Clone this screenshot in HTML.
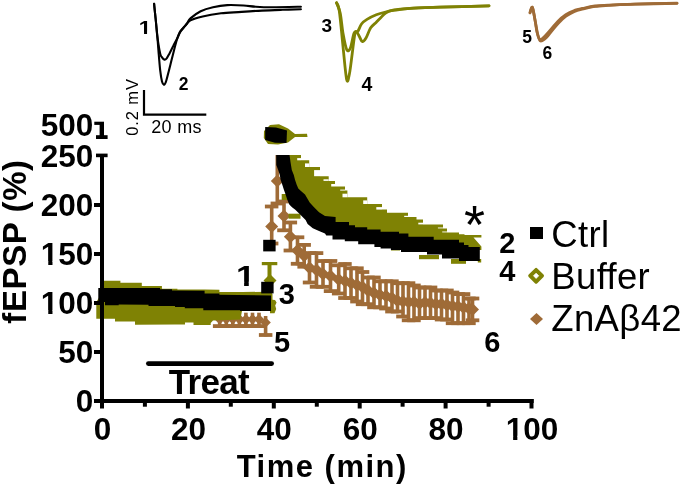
<!DOCTYPE html><html><head><meta charset="utf-8"><title>fEPSP</title><style>html,body{margin:0;padding:0;background:#fff;width:685px;height:486px;overflow:hidden}</style></head><body><svg width="685" height="486" viewBox="0 0 685 486" style="display:block"><defs><clipPath id="cm"><rect x="96" y="155" width="440" height="250"/></clipPath></defs><g fill="#9f6b37" clip-path="url(#cm)"><rect x="217.9" y="312.7" width="3.6" height="14.9"/><rect x="212.9" y="324.2" width="13.5" height="3.8"/><rect x="224.5" y="312.7" width="3.6" height="14.9"/><rect x="219.5" y="324.2" width="13.5" height="3.8"/><rect x="231.0" y="312.7" width="3.6" height="14.9"/><rect x="226.1" y="324.2" width="13.5" height="3.8"/><rect x="237.6" y="312.7" width="3.6" height="14.9"/><rect x="232.6" y="324.2" width="13.5" height="3.8"/><rect x="244.1" y="312.7" width="3.6" height="14.9"/><rect x="239.2" y="324.2" width="13.5" height="3.8"/><rect x="250.7" y="312.7" width="3.6" height="14.9"/><rect x="245.7" y="324.2" width="13.5" height="3.8"/><rect x="257.2" y="312.7" width="3.6" height="14.9"/><rect x="252.3" y="324.2" width="13.5" height="3.8"/><rect x="263.8" y="316.0" width="3.6" height="20.5"/><rect x="258.9" y="333.1" width="13.5" height="3.8"/><rect x="269.9" y="205.0" width="3.6" height="40.0"/><rect x="264.9" y="204.6" width="13.5" height="3.8"/><rect x="264.9" y="241.6" width="13.5" height="3.8"/><rect x="275.5" y="150.0" width="3.6" height="55.0"/><rect x="270.6" y="149.6" width="13.5" height="3.8"/><rect x="270.6" y="201.6" width="13.5" height="3.8"/><rect x="282.2" y="200.0" width="3.6" height="31.8"/><rect x="277.2" y="199.6" width="13.5" height="3.8"/><rect x="277.2" y="228.4" width="13.5" height="3.8"/><rect x="288.6" y="221.0" width="3.6" height="31.0"/><rect x="283.6" y="220.6" width="13.5" height="3.8"/><rect x="283.6" y="248.6" width="13.5" height="3.8"/><rect x="295.7" y="235.8" width="3.6" height="29.5"/><rect x="290.8" y="235.4" width="13.5" height="3.8"/><rect x="290.8" y="261.9" width="13.5" height="3.8"/><rect x="302.4" y="243.4" width="3.6" height="24.8"/><rect x="297.4" y="243.0" width="13.5" height="3.8"/><rect x="297.4" y="264.8" width="13.5" height="3.8"/><rect x="307.7" y="251.6" width="3.6" height="32.4"/><rect x="302.8" y="251.2" width="13.5" height="3.8"/><rect x="302.8" y="280.6" width="13.5" height="3.8"/><rect x="314.7" y="251.6" width="3.6" height="36.7"/><rect x="309.8" y="251.2" width="13.5" height="3.8"/><rect x="309.8" y="284.9" width="13.5" height="3.8"/><rect x="321.2" y="259.5" width="3.6" height="28.8"/><rect x="316.2" y="259.1" width="13.5" height="3.8"/><rect x="316.2" y="284.9" width="13.5" height="3.8"/><rect x="328.7" y="259.5" width="3.6" height="33.1"/><rect x="323.8" y="259.1" width="13.5" height="3.8"/><rect x="323.8" y="289.2" width="13.5" height="3.8"/><rect x="336.9" y="263.8" width="3.6" height="31.2"/><rect x="331.9" y="263.4" width="13.5" height="3.8"/><rect x="331.9" y="291.6" width="13.5" height="3.8"/><rect x="343.2" y="262.5" width="3.6" height="37.0"/><rect x="338.2" y="262.1" width="13.5" height="3.8"/><rect x="338.2" y="296.1" width="13.5" height="3.8"/><rect x="349.2" y="266.8" width="3.6" height="32.7"/><rect x="344.2" y="266.4" width="13.5" height="3.8"/><rect x="344.2" y="296.1" width="13.5" height="3.8"/><rect x="355.2" y="266.8" width="3.6" height="36.2"/><rect x="350.2" y="266.4" width="13.5" height="3.8"/><rect x="350.2" y="299.6" width="13.5" height="3.8"/><rect x="360.7" y="270.5" width="3.6" height="35.2"/><rect x="355.8" y="270.1" width="13.5" height="3.8"/><rect x="355.8" y="302.3" width="13.5" height="3.8"/><rect x="366.2" y="276.0" width="3.6" height="29.7"/><rect x="361.2" y="275.6" width="13.5" height="3.8"/><rect x="361.2" y="302.3" width="13.5" height="3.8"/><rect x="372.2" y="276.0" width="3.6" height="32.8"/><rect x="367.2" y="275.6" width="13.5" height="3.8"/><rect x="367.2" y="305.4" width="13.5" height="3.8"/><rect x="378.2" y="279.8" width="3.6" height="29.0"/><rect x="373.2" y="279.4" width="13.5" height="3.8"/><rect x="373.2" y="305.4" width="13.5" height="3.8"/><rect x="384.2" y="279.8" width="3.6" height="30.2"/><rect x="379.2" y="279.4" width="13.5" height="3.8"/><rect x="379.2" y="306.6" width="13.5" height="3.8"/><rect x="390.2" y="279.8" width="3.6" height="33.2"/><rect x="385.2" y="279.4" width="13.5" height="3.8"/><rect x="385.2" y="309.6" width="13.5" height="3.8"/><rect x="395.7" y="281.7" width="3.6" height="31.3"/><rect x="390.8" y="281.3" width="13.5" height="3.8"/><rect x="390.8" y="309.6" width="13.5" height="3.8"/><rect x="401.2" y="281.7" width="3.6" height="36.3"/><rect x="396.2" y="281.3" width="13.5" height="3.8"/><rect x="396.2" y="314.6" width="13.5" height="3.8"/><rect x="406.7" y="281.7" width="3.6" height="40.1"/><rect x="401.8" y="281.3" width="13.5" height="3.8"/><rect x="401.8" y="318.4" width="13.5" height="3.8"/><rect x="412.2" y="284.0" width="3.6" height="37.8"/><rect x="407.2" y="283.6" width="13.5" height="3.8"/><rect x="407.2" y="318.4" width="13.5" height="3.8"/><rect x="417.7" y="286.0" width="3.6" height="33.6"/><rect x="412.8" y="285.6" width="13.5" height="3.8"/><rect x="412.8" y="316.2" width="13.5" height="3.8"/><rect x="423.2" y="286.0" width="3.6" height="33.6"/><rect x="418.2" y="285.6" width="13.5" height="3.8"/><rect x="418.2" y="316.2" width="13.5" height="3.8"/><rect x="428.7" y="286.0" width="3.6" height="33.6"/><rect x="423.8" y="285.6" width="13.5" height="3.8"/><rect x="423.8" y="316.2" width="13.5" height="3.8"/><rect x="434.2" y="289.0" width="3.6" height="30.6"/><rect x="429.2" y="288.6" width="13.5" height="3.8"/><rect x="429.2" y="316.2" width="13.5" height="3.8"/><rect x="439.7" y="289.0" width="3.6" height="32.0"/><rect x="434.8" y="288.6" width="13.5" height="3.8"/><rect x="434.8" y="317.6" width="13.5" height="3.8"/><rect x="445.2" y="289.0" width="3.6" height="32.0"/><rect x="440.2" y="288.6" width="13.5" height="3.8"/><rect x="440.2" y="317.6" width="13.5" height="3.8"/><rect x="450.7" y="291.0" width="3.6" height="33.7"/><rect x="445.8" y="290.6" width="13.5" height="3.8"/><rect x="445.8" y="321.3" width="13.5" height="3.8"/><rect x="456.2" y="292.6" width="3.6" height="32.1"/><rect x="451.2" y="292.2" width="13.5" height="3.8"/><rect x="451.2" y="321.3" width="13.5" height="3.8"/><rect x="461.7" y="292.6" width="3.6" height="32.1"/><rect x="456.8" y="292.2" width="13.5" height="3.8"/><rect x="456.8" y="321.3" width="13.5" height="3.8"/><rect x="467.2" y="297.0" width="3.6" height="27.7"/><rect x="462.2" y="296.6" width="13.5" height="3.8"/><rect x="462.2" y="321.3" width="13.5" height="3.8"/><rect x="470.7" y="297.0" width="3.6" height="24.8"/><rect x="465.8" y="296.6" width="13.5" height="3.8"/><rect x="465.8" y="318.4" width="13.5" height="3.8"/><path d="M219.7 314.0L224.9 319.2L219.7 324.4L214.5 319.2Z"/><path d="M226.3 314.0L231.5 319.2L226.3 324.4L221.1 319.2Z"/><path d="M232.8 314.0L238.0 319.2L232.8 324.4L227.6 319.2Z"/><path d="M239.4 314.0L244.6 319.2L239.4 324.4L234.2 319.2Z"/><path d="M245.9 314.0L251.1 319.2L245.9 324.4L240.7 319.2Z"/><path d="M252.5 314.0L257.7 319.2L252.5 324.4L247.3 319.2Z"/><path d="M259.0 314.0L264.2 319.2L259.0 324.4L253.8 319.2Z"/><path d="M265.6 317.3L270.8 322.5L265.6 327.7L260.4 322.5Z"/><path d="M271.7 219.9L278.2 226.4L271.7 232.9L265.2 226.4Z"/><path d="M277.3 174.5L283.8 181.0L277.3 187.5L270.8 181.0Z"/><path d="M284.0 209.5L290.5 216.0L284.0 222.5L277.5 216.0Z"/><path d="M290.4 230.2L296.9 236.7L290.4 243.2L283.9 236.7Z"/><path d="M297.5 244.0L304.0 250.5L297.5 257.0L291.0 250.5Z"/><path d="M304.2 249.3L310.7 255.8L304.2 262.3L297.7 255.8Z"/><path d="M309.5 261.3L316.0 267.8L309.5 274.3L303.0 267.8Z"/><path d="M316.5 263.5L323.0 270.0L316.5 276.5L310.0 270.0Z"/><path d="M323.0 267.5L329.5 274.0L323.0 280.5L316.5 274.0Z"/><path d="M330.5 269.5L337.0 276.0L330.5 282.5L324.0 276.0Z"/><path d="M338.7 272.9L345.2 279.4L338.7 285.9L332.2 279.4Z"/><path d="M345.0 274.5L351.5 281.0L345.0 287.5L338.5 281.0Z"/><path d="M351.0 276.5L357.5 283.0L351.0 289.5L344.5 283.0Z"/><path d="M357.0 278.5L363.5 285.0L357.0 291.5L350.5 285.0Z"/><path d="M362.5 280.5L369.0 287.0L362.5 293.5L356.0 287.0Z"/><path d="M368.0 284.0L374.5 290.5L368.0 297.0L361.5 290.5Z"/><path d="M374.0 286.5L380.5 293.0L374.0 299.5L367.5 293.0Z"/><path d="M380.0 288.5L386.5 295.0L380.0 301.5L373.5 295.0Z"/><path d="M386.0 289.5L392.5 296.0L386.0 302.5L379.5 296.0Z"/><path d="M392.0 291.5L398.5 298.0L392.0 304.5L385.5 298.0Z"/><path d="M397.5 294.2L404.0 300.7L397.5 307.2L391.0 300.7Z"/><path d="M403.0 295.0L409.5 301.5L403.0 308.0L396.5 301.5Z"/><path d="M408.5 295.5L415.0 302.0L408.5 308.5L402.0 302.0Z"/><path d="M414.0 295.5L420.5 302.0L414.0 308.5L407.5 302.0Z"/><path d="M419.5 297.0L426.0 303.5L419.5 310.0L413.0 303.5Z"/><path d="M425.0 296.0L431.5 302.5L425.0 309.0L418.5 302.5Z"/><path d="M430.5 296.5L437.0 303.0L430.5 309.5L424.0 303.0Z"/><path d="M436.0 297.5L442.5 304.0L436.0 310.5L429.5 304.0Z"/><path d="M441.5 297.5L448.0 304.0L441.5 310.5L435.0 304.0Z"/><path d="M447.0 298.5L453.5 305.0L447.0 311.5L440.5 305.0Z"/><path d="M452.5 299.5L459.0 306.0L452.5 312.5L446.0 306.0Z"/><path d="M458.0 300.0L464.5 306.5L458.0 313.0L451.5 306.5Z"/><path d="M463.5 301.0L470.0 307.5L463.5 314.0L457.0 307.5Z"/><path d="M469.0 302.0L475.5 308.5L469.0 315.0L462.5 308.5Z"/><path d="M472.5 302.9L479.0 309.4L472.5 315.9L466.0 309.4Z"/></g><g fill="#7f8204"><path d="M103.7 280.7 L120.4 280.7 L120.4 282.7 L141.8 282.7 L141.8 286.0 L161.9 286.0 L161.9 288.7 L177.4 288.7 L177.4 289.5 L204.6 289.5 L219.4 289.8 L219.4 292.0 L242.4 292.0 L270.8 291.7 L272.5 294.0 L272.5 311.0 L270.0 311.0 L242.0 311.0 L240.0 319.5 L213.0 320.5 L210.7 323.0 L210.7 325.0 L193.5 325.0 L193.5 322.5 L185.0 322.5 L185.0 324.4 L175.0 324.4 L135.0 324.8 L135.0 321.5 L115.0 321.5 L115.0 318.8 L96.3 318.8 L96.3 302.0 L100.0 296.0 L103.7 288.0Z"/><rect x="267.5" y="263.0" width="4" height="27.0"/><rect x="261.8" y="262.0" width="15.5" height="3.2"/><path d="M270 274 L276.5 280.5 L270 287 L263.5 280.5 Z"/><path d="M270.0 299.5 L275.0 300.0 L276.6 302.5 L275.2 305.5 L276.2 309.0 L274.5 313.2 L270.0 313.2Z"/><path d="M282.0 155.0 L301.0 155.0 L301.0 160.3 L309.2 160.3 L309.2 167.0 L320.0 167.0 L320.0 176.2 L328.7 176.2 L328.7 180.9 L335.0 180.9 L335.0 186.5 L345.0 186.5 L345.0 190.6 L347.4 190.6 L347.4 197.3 L367.2 197.3 L367.2 204.0 L382.0 204.0 L382.0 209.6 L387.0 209.6 L387.0 212.7 L408.0 212.7 L408.0 217.0 L416.5 217.0 L416.5 219.6 L423.0 219.6 L423.0 224.4 L443.0 224.4 L443.0 228.4 L447.0 228.4 L447.0 232.4 L459.0 232.4 L459.0 234.3 L464.5 234.3 L464.5 235.0 L481.4 235.0 L481.4 237.6 L473.5 237.6 L481.4 246.5 L481.4 250.0 L440.0 250.0 L380.0 240.0 L330.0 230.0 L300.0 205.0 L282.0 175.0Z"/><rect x="419" y="255" width="20" height="4.2"/><rect x="451" y="259" width="15" height="4.8"/><rect x="477.8" y="259" width="3.4" height="3.5"/><rect x="391" y="247.5" width="9" height="3"/><rect x="281.7" y="194" width="6.3" height="6"/><rect x="288.5" y="213.7" width="12" height="5"/><path d="M264 131 L270 125 L279 124.3 L288 128.5 L295 134 L307 133.8 L307.5 137 L295 137 L288 142.5 L278 144.6 L268 144 L263.8 138 Z"/></g><g fill="#fff"><rect x="297.2" y="158.1" width="3.8" height="2.2"/><rect x="305.0" y="163.4" width="4.2" height="3.6"/><rect x="314.1" y="170.1" width="5.9" height="6.1"/><rect x="323.5" y="179.3" width="5.2" height="1.6"/><rect x="331.2" y="184.0" width="3.8" height="2.5"/><rect x="340.2" y="189.6" width="4.8" height="1.0"/><rect x="342.5" y="193.7" width="4.9" height="3.6"/><rect x="363.2" y="200.4" width="4.0" height="3.6"/><rect x="376.3" y="207.1" width="5.7" height="2.5"/><rect x="404.2" y="215.8" width="3.8" height="1.2"/><rect x="418.3" y="222.7" width="4.7" height="1.7"/><rect x="437.9" y="227.5" width="5.1" height="0.9"/><rect x="442.2" y="231.5" width="4.8" height="0.9"/></g><g fill="#000"><path d="M98.3 288.0 L160.0 288.0 L160.0 289.2 L172.0 289.2 L172.0 290.6 L204.6 290.8 L204.6 293.5 L219.4 293.5 L219.4 294.8 L271.0 295.4 L271.0 311.0 L240.0 311.0 L240.0 310.2 L203.3 310.2 L203.3 308.3 L184.8 308.3 L184.8 307.0 L175.0 307.0 L175.0 306.0 L148.5 306.0 L148.5 304.8 L118.7 304.4 L118.7 305.2 L105.0 305.2 L105.0 302.1 L98.3 302.1Z"/><rect x="261.2" y="281.8" width="12.4" height="11.6"/><rect x="263.2" y="239.79999999999998" width="12.4" height="11.6"/><path d="M265.2 127 L276 127.5 L287 130.5 L286.5 143 L275 142.8 L265.2 140 Z"/><path d="M276.2 155.0 L289.5 155.0 L290.5 162.0 L291.8 169.9 L293.8 174.9 L295.0 179.8 L296.7 184.8 L298.3 188.5 L300.4 190.5 L305.0 194.5 L309.7 202.5 L313.8 207.1 L319.0 212.3 L325.0 215.9 L335.6 217.0 L335.6 222.1 L349.0 222.1 L349.0 225.2 L355.0 225.2 L355.0 227.3 L367.2 227.3 L367.2 229.4 L380.6 229.4 L380.6 231.7 L399.0 231.7 L399.0 233.5 L408.4 233.5 L408.4 236.8 L433.7 236.8 L433.7 239.8 L459.0 239.8 L459.0 242.4 L464.0 242.4 L464.0 245.0 L468.5 245.0 L468.5 247.0 L479.8 247.0 L479.8 261.0 L459.0 261.0 L459.0 258.5 L442.0 258.5 L442.0 254.5 L427.0 254.5 L427.0 252.0 L401.0 252.0 L401.0 250.0 L390.9 250.0 L390.9 248.4 L380.6 248.4 L380.6 246.9 L374.4 246.9 L374.4 244.3 L358.2 244.2 L358.2 241.2 L344.8 241.2 L344.8 239.6 L332.5 239.6 L332.5 235.5 L326.3 235.5 L325.0 233.4 L319.0 231.0 L312.8 228.2 L307.6 224.1 L305.6 220.0 L300.4 214.8 L295.3 209.7 L292.0 207.3 L289.3 204.5 L287.2 199.6 L285.6 194.6 L283.9 189.7 L282.3 184.8 L280.6 179.8 L279.8 174.9 L278.2 169.9 L276.3 165.0Z"/></g><g fill="#000"><rect x="100" y="155" width="4" height="248"/><rect x="96" y="153.6" width="11.6" height="3.6"/><rect x="99.6" y="122" width="4.4" height="17"/><rect x="94.3" y="121.7" width="9.7" height="3.2"/><rect x="96" y="135.2" width="11.6" height="3.8"/><rect x="94" y="399.0" width="7" height="4"/><rect x="94" y="350.0" width="7" height="4"/><rect x="94" y="301.0" width="7" height="4"/><rect x="94" y="252.0" width="7" height="4"/><rect x="94" y="203.0" width="7" height="4"/><rect x="100" y="399" width="433.7" height="4"/><rect x="100.0" y="399" width="4" height="9.5"/><rect x="142.9" y="399" width="4" height="7.7"/><rect x="185.9" y="399" width="4" height="9.5"/><rect x="228.8" y="399" width="4" height="7.7"/><rect x="271.8" y="399" width="4" height="9.5"/><rect x="314.8" y="399" width="4" height="7.7"/><rect x="357.7" y="399" width="4" height="9.5"/><rect x="400.6" y="399" width="4" height="7.7"/><rect x="443.6" y="399" width="4" height="9.5"/><rect x="486.6" y="399" width="4" height="7.7"/><rect x="529.5" y="399" width="4" height="9.5"/></g><g font-family="'Liberation Sans', Arial, sans-serif" font-weight="bold" font-size="31.5" fill="#000"><text x="93.4" y="136.1" text-anchor="end">500</text><text x="93.4" y="167.3" text-anchor="end">250</text><text x="93.4" y="216.3" text-anchor="end">200</text><text x="93.4" y="265.3" text-anchor="end">150</text><text x="93.4" y="314.3" text-anchor="end">100</text><text x="93.4" y="363.3" text-anchor="end">50</text><text x="93.4" y="412.3" text-anchor="end">0</text><text x="102.5" y="440" text-anchor="middle">0</text><text x="188.4" y="440" text-anchor="middle">20</text><text x="274.3" y="440" text-anchor="middle">40</text><text x="360.2" y="440" text-anchor="middle">60</text><text x="446.1" y="440" text-anchor="middle">80</text><text x="532.0" y="440" text-anchor="middle">100</text></g><text font-family="'Liberation Sans', Arial, sans-serif" font-weight="bold" font-size="31" letter-spacing="1.5" x="322.3" y="476.7" text-anchor="middle">Time (min)</text><text font-family="'Liberation Sans', Arial, sans-serif" font-weight="bold" font-size="33" letter-spacing="0.6" transform="translate(25.8 241.5) rotate(-90)" text-anchor="middle">fEPSP (%)</text><rect x="146" y="361.3" width="128" height="4.6" rx="2.3" fill="#000"/><text font-family="'Liberation Sans', Arial, sans-serif" font-weight="bold" font-size="35" letter-spacing="-0.7" x="208.9" y="393.8" text-anchor="middle">Treat</text><g font-family="'Liberation Sans', Arial, sans-serif" font-weight="bold" font-size="29" text-anchor="middle"><text x="286.9" y="304">3</text><text x="282" y="351.5">5</text><text x="507.2" y="253">2</text><text x="507.2" y="281">4</text><text x="492.3" y="351.5">6</text></g><text font-family="'Liberation Sans', Arial, sans-serif" font-size="54" x="474.4" y="243.2" text-anchor="middle">*</text><rect x="530" y="227" width="13" height="12" fill="#000"/><path d="M536.1 269.6 L542.3 275.8 L536.1 282 L529.9 275.8 Z" fill="#7f8204" stroke="#7f8204" stroke-width="3.4" stroke-linejoin="round"/><path d="M536.1 273.2 L538.7 275.8 L536.1 278.4 L533.5 275.8 Z" fill="#fff" stroke="#fff" stroke-width="0.8" stroke-linejoin="round"/><path d="M536.5 313 L543 319 L536.5 325 L530 319 Z" fill="#9f6b37"/><g font-family="'Liberation Sans', Arial, sans-serif" font-size="36.5" letter-spacing="0.35" fill="#000"><text x="551.3" y="246.7">Ctrl</text><text x="551.3" y="288.6">Buffer</text><text x="551.3" y="330.7">ZnAβ42</text></g><g fill="none" stroke="#000" stroke-width="2.1" stroke-linejoin="round" stroke-linecap="round"><path d="M154.1 3.7 C154.3 6.2 155.0 12.9 155.6 18.5 C156.2 24.1 156.6 31.1 157.4 37.0 C158.2 42.9 159.4 50.3 160.2 53.7 C161.0 57.1 161.3 56.4 162.0 57.4 C162.7 58.4 163.6 59.5 164.4 59.6 C165.2 59.8 165.9 59.3 166.7 58.3 C167.5 57.3 168.3 55.7 169.4 53.7 C170.5 51.7 171.8 48.8 173.1 46.3 C174.3 43.8 175.7 41.4 176.9 38.9 C178.2 36.4 179.2 33.7 180.6 31.5 C182.0 29.3 183.6 27.8 185.2 25.9 C186.8 24.0 187.5 22.0 190.4 20.4 C193.3 18.8 197.6 17.6 202.7 16.4 C207.8 15.2 214.5 14.1 221.0 13.3 C227.5 12.6 234.8 12.4 241.6 11.9 C248.4 11.4 255.2 10.9 262.0 10.6 C268.8 10.2 276.0 10.0 282.5 9.8 C289.0 9.6 297.8 9.3 300.9 9.2"/><path d="M154.1 3.7 C154.3 6.2 155.0 12.9 155.6 18.5 C156.2 24.1 156.9 30.9 157.4 37.0 C157.9 43.1 158.3 49.4 158.8 55.0 C159.3 60.6 159.7 66.0 160.2 70.4 C160.7 74.8 161.4 79.1 162.0 81.5 C162.6 83.9 163.3 84.6 163.9 84.8 C164.5 85.0 164.9 84.5 165.7 82.4 C166.5 80.3 167.6 75.8 168.5 72.2 C169.4 68.7 170.4 64.8 171.3 61.1 C172.2 57.4 173.2 53.5 174.1 50.0 C175.0 46.5 176.0 42.7 176.9 39.8 C177.8 36.9 178.5 34.4 179.6 32.4 C180.7 30.4 182.1 29.3 183.3 27.8 C184.5 26.3 185.8 25.1 187.0 23.5 C188.2 21.9 188.1 20.4 190.4 18.4 C192.7 16.3 196.9 13.1 200.7 11.2 C204.5 9.3 208.6 8.2 213.0 7.2 C217.4 6.2 222.2 5.4 227.3 5.1 C232.4 4.8 238.8 5.2 243.6 5.5 C248.4 5.8 251.1 6.4 255.9 6.7 C260.7 7.0 264.7 7.2 272.2 7.2 C279.7 7.2 296.1 6.8 300.9 6.7"/></g><path d="M144 90 L144 114.7 L206.3 114.7" fill="none" stroke="#000" stroke-width="2.2"/><text font-family="'Liberation Sans', Arial, sans-serif" font-size="16.5" letter-spacing="0.9" transform="translate(138.2 107.0) rotate(-90)" text-anchor="middle">0.2 mV</text><text font-family="'Liberation Sans', Arial, sans-serif" font-size="18" letter-spacing="0.3" x="176.5" y="133.2" text-anchor="middle">20 ms</text><g fill="none" stroke="#7f8204" stroke-width="2.8" stroke-linejoin="round" stroke-linecap="round"><path d="M336.5 2.8 C337.1 4.5 339.1 7.9 340.2 13.0 C341.3 18.1 341.9 27.2 343.0 33.3 C344.1 39.4 345.5 47.1 346.7 49.6 C347.9 52.1 349.2 50.7 350.4 48.0 C351.6 45.3 352.9 35.9 354.0 33.3 C355.1 30.7 356.0 31.8 356.9 32.4 C357.8 33.0 358.7 35.5 359.6 37.0 C360.5 38.5 361.3 41.5 362.4 41.7 C363.5 41.9 364.6 40.3 366.0 38.0 C367.4 35.7 369.0 30.4 370.7 27.8 C372.4 25.2 374.8 23.8 376.3 22.2 C377.9 20.6 378.4 20.0 380.0 18.5 C381.6 17.0 383.4 14.4 385.6 13.0 C387.8 11.6 388.9 11.0 393.0 10.2 C397.1 9.4 402.2 8.8 410.0 8.3 C417.8 7.8 426.8 7.6 440.0 7.2 C453.2 6.8 480.8 6.0 489.0 5.8"/><path d="M336.5 2.8 C337.0 4.2 338.2 3.8 339.3 11.0 C340.4 18.2 341.8 34.9 343.0 46.3 C344.2 57.7 345.6 75.0 346.7 79.6 C347.8 84.2 348.5 78.3 349.4 74.0 C350.3 69.7 351.3 60.5 352.2 53.7 C353.1 46.9 354.1 37.0 355.0 33.3 C355.9 29.6 356.7 33.0 357.8 31.5 C358.9 29.9 360.0 26.0 361.5 24.0 C363.0 22.0 364.5 20.9 367.0 19.4 C369.5 17.9 373.2 16.0 376.3 14.8 C379.4 13.6 382.5 12.8 385.6 12.0 C388.7 11.2 390.7 10.8 394.8 10.2 C398.9 9.6 402.5 8.8 410.0 8.3 C417.5 7.8 426.8 7.6 440.0 7.2 C453.2 6.8 480.8 6.0 489.0 5.8"/></g><g fill="none" stroke="#9f6b37" stroke-width="2.8" stroke-linejoin="round" stroke-linecap="round"><path d="M530.0 12.7 C530.4 11.8 531.6 6.2 532.4 7.4 C533.2 8.6 534.2 15.9 535.0 20.0 C535.8 24.1 536.2 28.8 537.0 32.0 C537.8 35.2 538.6 38.5 539.7 39.4 C540.8 40.3 542.0 38.9 543.7 37.4 C545.4 35.9 547.4 33.4 549.8 30.7 C552.1 28.0 555.1 24.1 557.8 21.4 C560.5 18.7 563.1 16.5 565.8 14.7 C568.5 12.9 570.7 11.8 573.8 10.7 C576.9 9.6 581.0 8.8 584.5 8.0 C588.0 7.2 591.1 6.5 595.0 6.0 C598.9 5.5 601.3 5.5 608.0 5.2 C614.7 4.9 623.5 4.4 635.0 4.1 C646.5 3.8 670.0 3.4 677.0 3.2"/><path d="M530.0 12.7 C530.4 11.8 531.5 6.0 532.4 7.4 C533.3 8.8 534.3 16.6 535.2 21.0 C536.1 25.4 536.8 30.7 537.6 34.0 C538.4 37.3 539.1 40.1 540.2 41.0 C541.4 41.9 542.8 40.6 544.5 39.2 C546.2 37.8 548.2 35.3 550.5 32.6 C552.8 29.9 555.7 25.9 558.3 23.2 C560.9 20.5 563.4 18.1 566.0 16.2 C568.6 14.3 570.9 12.9 574.0 11.6 C577.1 10.3 581.0 9.5 584.5 8.6 C588.0 7.7 591.1 6.9 595.0 6.4 C598.9 5.9 601.3 5.8 608.0 5.4 C614.7 5.0 623.5 4.6 635.0 4.2 C646.5 3.9 670.0 3.4 677.0 3.3"/></g><g font-family="'Liberation Sans', Arial, sans-serif" font-weight="bold" text-anchor="middle"><text x="183.7" y="90.3" font-size="17.5">2</text><text x="326.8" y="32" font-size="19">3</text><text x="366.9" y="90.8" font-size="19.5">4</text><text x="527" y="43.4" font-size="17.5">5</text><text x="547.4" y="58.7" font-size="17.5">6</text></g><g fill="#fff"><rect x="40.23" y="310.05" width="8.03" height="5.45"/><rect x="52.48" y="310.05" width="5.83" height="5.45"/><rect x="40.23" y="261.05" width="8.03" height="5.45"/><rect x="52.48" y="261.05" width="5.83" height="5.45"/><rect x="505.10" y="435.75" width="8.03" height="5.45"/><rect x="517.35" y="435.75" width="5.83" height="5.45"/></g><g transform="translate(245.6 285.5) scale(1.2 1)"><text font-family="'Liberation Sans', Arial, sans-serif" font-weight="bold" font-size="29" x="0" y="0" text-anchor="middle">1</text><g fill="#fff"><rect x="-8.64" y="-3.92" width="7.40" height="5.12"/><rect x="2.64" y="-3.92" width="5.37" height="5.12"/></g></g><g transform="translate(145.0 34.2) scale(1.25 1)"><text font-family="'Liberation Sans', Arial, sans-serif" font-weight="bold" font-size="18" x="0" y="0" text-anchor="middle">1</text><g fill="#fff"><rect x="-5.36" y="-2.43" width="4.59" height="3.63"/><rect x="1.64" y="-2.43" width="3.33" height="3.63"/></g></g></svg></body></html>
